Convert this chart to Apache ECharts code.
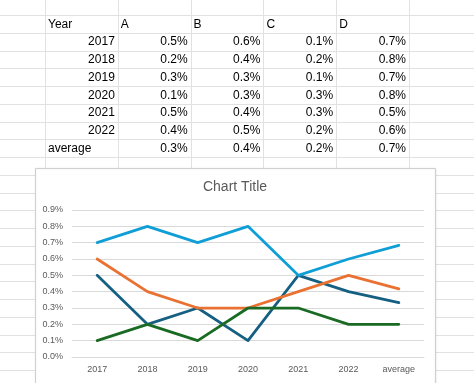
<!DOCTYPE html>
<html>
<head>
<meta charset="utf-8">
<script src="https://cdn.jsdelivr.net/npm/echarts@6/dist/echarts.min.js"></script>
<style>
html,body{margin:0;padding:0;background:#fff;}
#c{width:474px;height:383px;}
</style>
</head>
<body>
<div id="c"></div>
<script>
const categories = ['2017', '2018', '2019', '2020', '2021', '2022', 'average'];
const seriesNames = ['A', 'B', 'C', 'D'];
const valuesA = [0.5, 0.2, 0.3, 0.1, 0.5, 0.4, 0.333];
const valuesB = [0.6, 0.4, 0.3, 0.3, 0.4, 0.5, 0.417];
const valuesC = [0.1, 0.2, 0.1, 0.3, 0.3, 0.2, 0.2];
const valuesD = [0.7, 0.8, 0.7, 0.8, 0.5, 0.6, 0.683];
const headerLabel = 'Year';
const chartTitle = 'Chart Title';
const colors = ['#156082', '#E97132', '#196B24', '#0F9ED5'];

const allValues = [valuesA, valuesB, valuesC, valuesD];
const FONT = '"Liberation Sans", Arial, sans-serif';

// ---- spreadsheet background ----
const gridColor = '#e1e1e1';
const rowTop = 15, rowH = 17.75;
const colX = [45, 117.8, 190.6, 263.4, 336.2, 409];
const boxX = 35, boxY = 168, boxW = 400, boxH = 240;
const graphics = [];
function px(v){ return Math.round(v) + 0.5; }
for (let n = 0; n <= 21; n++) {
  const y = px(rowTop + rowH * n);
  graphics.push({type:'line', z:-10, silent:true, shape:{x1:0, y1:y, x2:474, y2:y}, style:{stroke:gridColor, lineWidth:1}});
}
colX.forEach(x => {
  graphics.push({type:'line', z:-10, silent:true, shape:{x1:px(x), y1:0, x2:px(x), y2:383}, style:{stroke:gridColor, lineWidth:1}});
});
function cellText(text, col, row, align) {
  const yc = rowTop + rowH * row + rowH / 2 + 0.5;
  const x = align === 'left' ? colX[col] + 3 : colX[col + 1] - 3;
  graphics.push({type:'text', z:-9, silent:true, x:x, y:yc,
    style:{text:text, fill:'#000', font:'12px ' + FONT, textAlign:align, textVerticalAlign:'middle'}});
}
cellText(headerLabel, 0, 0, 'left');
seriesNames.forEach((s, i) => cellText(s, i + 1, 0, 'left'));
categories.forEach((cat, r) => {
  const isNum = /^\d+$/.test(cat);
  cellText(cat, 0, r + 1, isNum ? 'right' : 'left');
  allValues.forEach((vals, i) => cellText(vals[r].toFixed(1) + '%', i + 1, r + 1, 'right'));
});
// chart box
graphics.push({type:'rect', z:-5, silent:true, shape:{x:boxX + 0.5, y:boxY + 0.5, width:boxW, height:boxH},
  style:{fill:'#fff', stroke:'#d0d0d0', lineWidth:1, shadowBlur:2, shadowColor:'rgba(0,0,0,0.08)'}});
graphics.push({type:'text', z:-4, silent:true, x:boxX + boxW / 2, y:187,
  style:{text:chartTitle, fill:'#595959', font:'14px ' + FONT, textAlign:'center', textVerticalAlign:'middle'}});

const chart = echarts.init(document.getElementById('c'), null, {renderer:'canvas'});
chart.setOption({
  animation:false,
  backgroundColor:'#fff',
  color:colors,
  graphic:graphics,
  grid:{left:72, right:50, top:210, bottom:26, containLabel:false},
  xAxis:{
    type:'category', data:categories, boundaryGap:true,
    axisLine:{show:true, lineStyle:{color:'#d9d9d9', width:1}},
    axisTick:{show:false},
    axisLabel:{color:'#595959', fontSize:9, fontFamily:FONT, margin:8, interval:0},
    splitLine:{show:false}
  },
  yAxis:{
    type:'value', min:0, max:0.9, interval:0.1,
    axisLine:{show:false}, axisTick:{show:false},
    axisLabel:{color:'#595959', fontSize:9, fontFamily:FONT, margin:9,
      formatter:v => v.toFixed(1) + '%'},
    splitLine:{show:true, lineStyle:{color:'#d9d9d9', width:1}}
  },
  series:seriesNames.map((name, i) => ({
    name:name, type:'line', data:allValues[i], showSymbol:false, symbol:'none',
    lineStyle:{width:2.75, color:colors[i], cap:'round', join:'round'},
    z:2 + i
  }))
});
</script>
</body>
</html>
